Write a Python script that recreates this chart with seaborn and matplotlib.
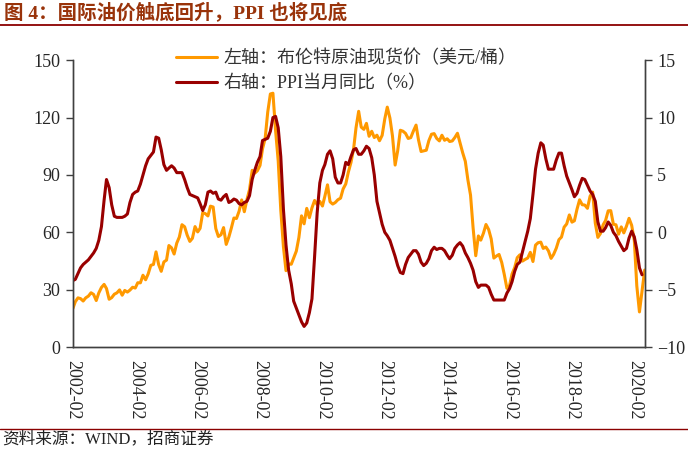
import pandas as pd
import numpy as np
import matplotlib
matplotlib.use('Agg')
import matplotlib.pyplot as plt
import matplotlib.dates as mdates
from matplotlib.lines import Line2D
import seaborn as sns

# Brent spot, USD/bbl, monthly, 2002-02 .. 2020-06
brent = [
    20.28, 23.70, 25.73, 25.35, 24.08, 25.74, 26.65, 28.40, 27.54, 24.34, 28.33,           # 2002
    31.18, 32.77, 30.61, 25.00, 25.86, 27.65, 28.35, 29.89, 27.11, 29.61, 28.75, 29.81,    # 2003
    31.28, 30.86, 33.63, 33.59, 37.57, 35.18, 38.22, 42.74, 43.20, 49.78, 43.11, 39.60,    # 2004
    44.51, 45.48, 53.10, 51.88, 48.65, 54.35, 57.52, 63.98, 62.91, 58.54, 55.24, 56.86,    # 2005
    62.99, 60.21, 62.06, 70.26, 69.78, 68.56, 73.67, 73.23, 61.96, 57.81, 58.76, 62.47,    # 2006
    53.68, 57.56, 62.05, 67.49, 67.21, 71.05, 76.93, 70.76, 77.17, 82.34, 92.41, 90.93,    # 2007
    92.18, 94.99, 103.64, 109.07, 122.80, 132.32, 132.72, 113.24, 97.23, 71.58, 52.45, 39.95,  # 2008
    43.44, 43.32, 46.54, 50.18, 57.30, 68.61, 64.44, 72.51, 67.65, 72.77, 76.66, 74.46,    # 2009
    76.17, 73.75, 78.83, 84.82, 75.95, 74.76, 75.58, 77.04, 77.84, 82.67, 85.28, 91.45,    # 2010
    96.52, 103.72, 114.64, 123.26, 114.99, 113.83, 116.97, 110.22, 112.83, 109.55, 110.77, 107.87,  # 2011
    110.69, 119.33, 125.45, 119.75, 110.34, 95.16, 102.62, 113.36, 112.86, 111.71, 109.06, 109.49,  # 2012
    112.96, 116.05, 108.47, 102.25, 102.56, 102.92, 107.93, 111.28, 111.60, 109.08, 107.79, 110.76,  # 2013
    108.12, 108.90, 107.48, 107.76, 109.54, 111.80, 106.77, 101.61, 97.09, 87.43, 79.44, 62.34,  # 2014
    47.76, 58.10, 55.89, 59.52, 64.08, 61.48, 56.56, 46.52, 47.62, 48.43, 44.27, 38.01,    # 2015
    30.70, 32.18, 38.21, 41.58, 46.74, 48.25, 44.95, 45.84, 46.57, 49.52, 44.73, 53.31,    # 2016
    54.58, 54.87, 51.59, 52.31, 50.33, 46.37, 48.48, 51.70, 56.15, 57.51, 62.71, 64.37,    # 2017
    69.08, 65.32, 66.02, 72.11, 76.98, 74.41, 74.25, 72.53, 78.89, 81.03, 64.75, 57.36,    # 2018
    59.41, 63.96, 66.14, 71.23, 71.32, 64.22, 63.92, 59.04, 62.83, 59.71, 63.21, 67.31,    # 2019
    63.65, 55.66, 32.01, 18.38, 29.38, 40.27,                                              # 2020
]

# China PPI YoY, %, monthly, 2002-02 .. 2020-05
ppi = [
    -4.2, -4.1, -3.6, -3.1, -2.8, -2.6, -2.4, -2.1, -1.8, -1.4, -0.7,      # 2002
    0.5, 2.8, 4.6, 3.9, 2.4, 1.4, 1.3, 1.3, 1.3, 1.4, 1.6, 2.6,            # 2003
    3.3, 3.5, 3.6, 4.2, 5.0, 5.8, 6.4, 6.7, 7.0, 8.3, 8.2, 7.2,            # 2004
    5.9, 5.4, 5.6, 5.8, 5.6, 5.2, 5.2, 5.2, 4.6, 3.9, 3.3, 3.2,            # 2005
    3.1, 3.0, 2.5, 1.9, 2.4, 3.5, 3.6, 3.4, 3.5, 2.9, 2.8, 3.1,            # 2006
    3.3, 2.6, 2.7, 2.9, 2.8, 2.5, 2.4, 2.6, 2.7, 3.2, 4.6, 5.4,            # 2007
    6.1, 6.6, 8.0, 8.1, 8.2, 8.8, 10.0, 10.1, 9.1, 6.6, 2.0, -1.1,         # 2008
    -3.3, -4.5, -6.0, -6.6, -7.2, -7.8, -8.2, -7.9, -7.0, -5.8, -2.1, 1.7, # 2009
    4.3, 5.4, 5.9, 6.8, 7.1, 6.4, 4.8, 4.3, 4.3, 5.0, 6.1, 5.9,            # 2010
    6.6, 7.2, 7.3, 6.8, 6.8, 7.1, 7.5, 7.3, 6.5, 5.0, 2.7, 1.7,            # 2011
    0.7, 0.0, -0.3, -0.7, -1.4, -2.1, -2.9, -3.5, -3.6, -2.8, -2.2, -1.9,  # 2012
    -1.6, -1.6, -1.9, -2.6, -2.9, -2.7, -2.3, -1.6, -1.3, -1.5, -1.4, -1.4,  # 2013
    -1.6, -2.0, -2.3, -2.0, -1.4, -1.1, -0.9, -1.2, -1.8, -2.2, -2.7, -3.3,  # 2014
    -4.3, -4.8, -4.6, -4.6, -4.6, -4.8, -5.4, -5.9, -5.9, -5.9, -5.9, -5.9,  # 2015
    -5.3, -4.9, -4.3, -3.4, -2.8, -2.6, -1.7, -0.8, 0.1, 1.2, 3.3, 5.5,    # 2016
    6.9, 7.8, 7.6, 6.4, 5.5, 5.5, 5.5, 6.3, 6.9, 6.9, 5.8, 4.9,            # 2017
    4.3, 3.7, 3.1, 3.4, 4.1, 4.7, 4.6, 4.1, 3.6, 3.3, 2.7, 0.9,            # 2018
    0.1, 0.1, 0.4, 0.9, 0.6, 0.0, -0.3, -0.8, -1.2, -1.6, -1.4, -0.5,      # 2019
    0.1, -0.4, -1.5, -3.1, -3.7,                                           # 2020
]

start_month = '2002-02-01'
tick_months = ['2002-02', '2004-02', '2006-02', '2008-02', '2010-02',
               '2012-02', '2014-02', '2016-02', '2018-02', '2020-02']
left_ticks = [0, 30, 60, 90, 120, 150]
right_ticks = [-10, -5, 0, 5, 10, 15]

label_oil = '左轴：布伦特原油现货价（美元/桶）'
label_ppi = '右轴：PPI当月同比（%）'
title = '图 4：国际油价触底回升，PPI 也将见底'
source = '资料来源：WIND，招商证券'

oil_df = pd.DataFrame({'date': pd.date_range(start_month, periods=len(brent), freq='MS'),
                       'value': brent})
ppi_df = pd.DataFrame({'date': pd.date_range(start_month, periods=len(ppi), freq='MS'),
                       'value': ppi})

sns.set_style('white')
plt.rcParams['font.family'] = ['Liberation Serif', 'Noto Sans CJK SC', 'DejaVu Sans']

c_oil = '#FF9900'
c_ppi = '#990000'
c_title = '#99330A'
c_rule = '#8B0000'

fig = plt.figure(figsize=(6.88, 4.49), dpi=100)
ax = fig.add_axes([0.106, 0.227, 0.831, 0.639])
ax2 = ax.twinx()

sns.lineplot(data=oil_df, x='date', y='value', ax=ax, color=c_oil, linewidth=2.2)
sns.lineplot(data=ppi_df, x='date', y='value', ax=ax2, color=c_ppi, linewidth=2.2)

ax.set_ylim(0, 150)
ax.set_yticks(left_ticks)
ax2.set_ylim(-10, 15)
ax2.set_yticks(right_ticks)
ax.set_xlim(pd.Timestamp(start_month), oil_df['date'].iloc[-1])
ax.set_xticks(pd.to_datetime(tick_months))
ax.xaxis.set_major_formatter(mdates.DateFormatter('%Y-%m'))

for a in (ax, ax2):
    a.set_xlabel('')
    a.set_ylabel('')
    a.spines['top'].set_visible(False)
    for s in a.spines.values():
        s.set_color('#404040')
        s.set_linewidth(1.0)
    a.grid(False)

ax.tick_params(axis='y', which='both', left=True, length=5, width=1, color='#404040',
               labelsize=13, pad=4)
ax2.tick_params(axis='y', which='both', right=True, length=5, width=1, color='#404040',
                labelsize=13, pad=4)
ax.tick_params(axis='x', length=0, labelsize=13, pad=9)
for lbl in ax.get_xticklabels():
    lbl.set_rotation(270)
    lbl.set_ha('center')
    lbl.set_va('top')

# legend
handles = [Line2D([], [], color=c_oil, lw=2.2), Line2D([], [], color=c_ppi, lw=2.2)]
leg = fig.legend(handles, [label_oil, label_ppi], loc='upper left',
                 bbox_to_anchor=(0.245, 0.905), frameon=False, fontsize=13,
                 handlelength=2.3, handletextpad=0.35, labelspacing=0.45,
                 borderaxespad=0)
for t in leg.get_texts():
    t.set_color('#333333')

# header and footer
fig.text(0.006, 0.972, title, fontsize=14, fontweight='bold', color=c_title,
         ha='left', va='center')
fig.add_artist(Line2D([0, 1], [0.945, 0.945], transform=fig.transFigure,
                      color=c_rule, lw=1.3))
fig.add_artist(Line2D([0, 1], [0.045, 0.045], transform=fig.transFigure,
                      color=c_rule, lw=1.0))
fig.text(0.003, 0.022, source, fontsize=12, color='#222222', ha='left', va='center')

fig.savefig('out.png', dpi=100)
